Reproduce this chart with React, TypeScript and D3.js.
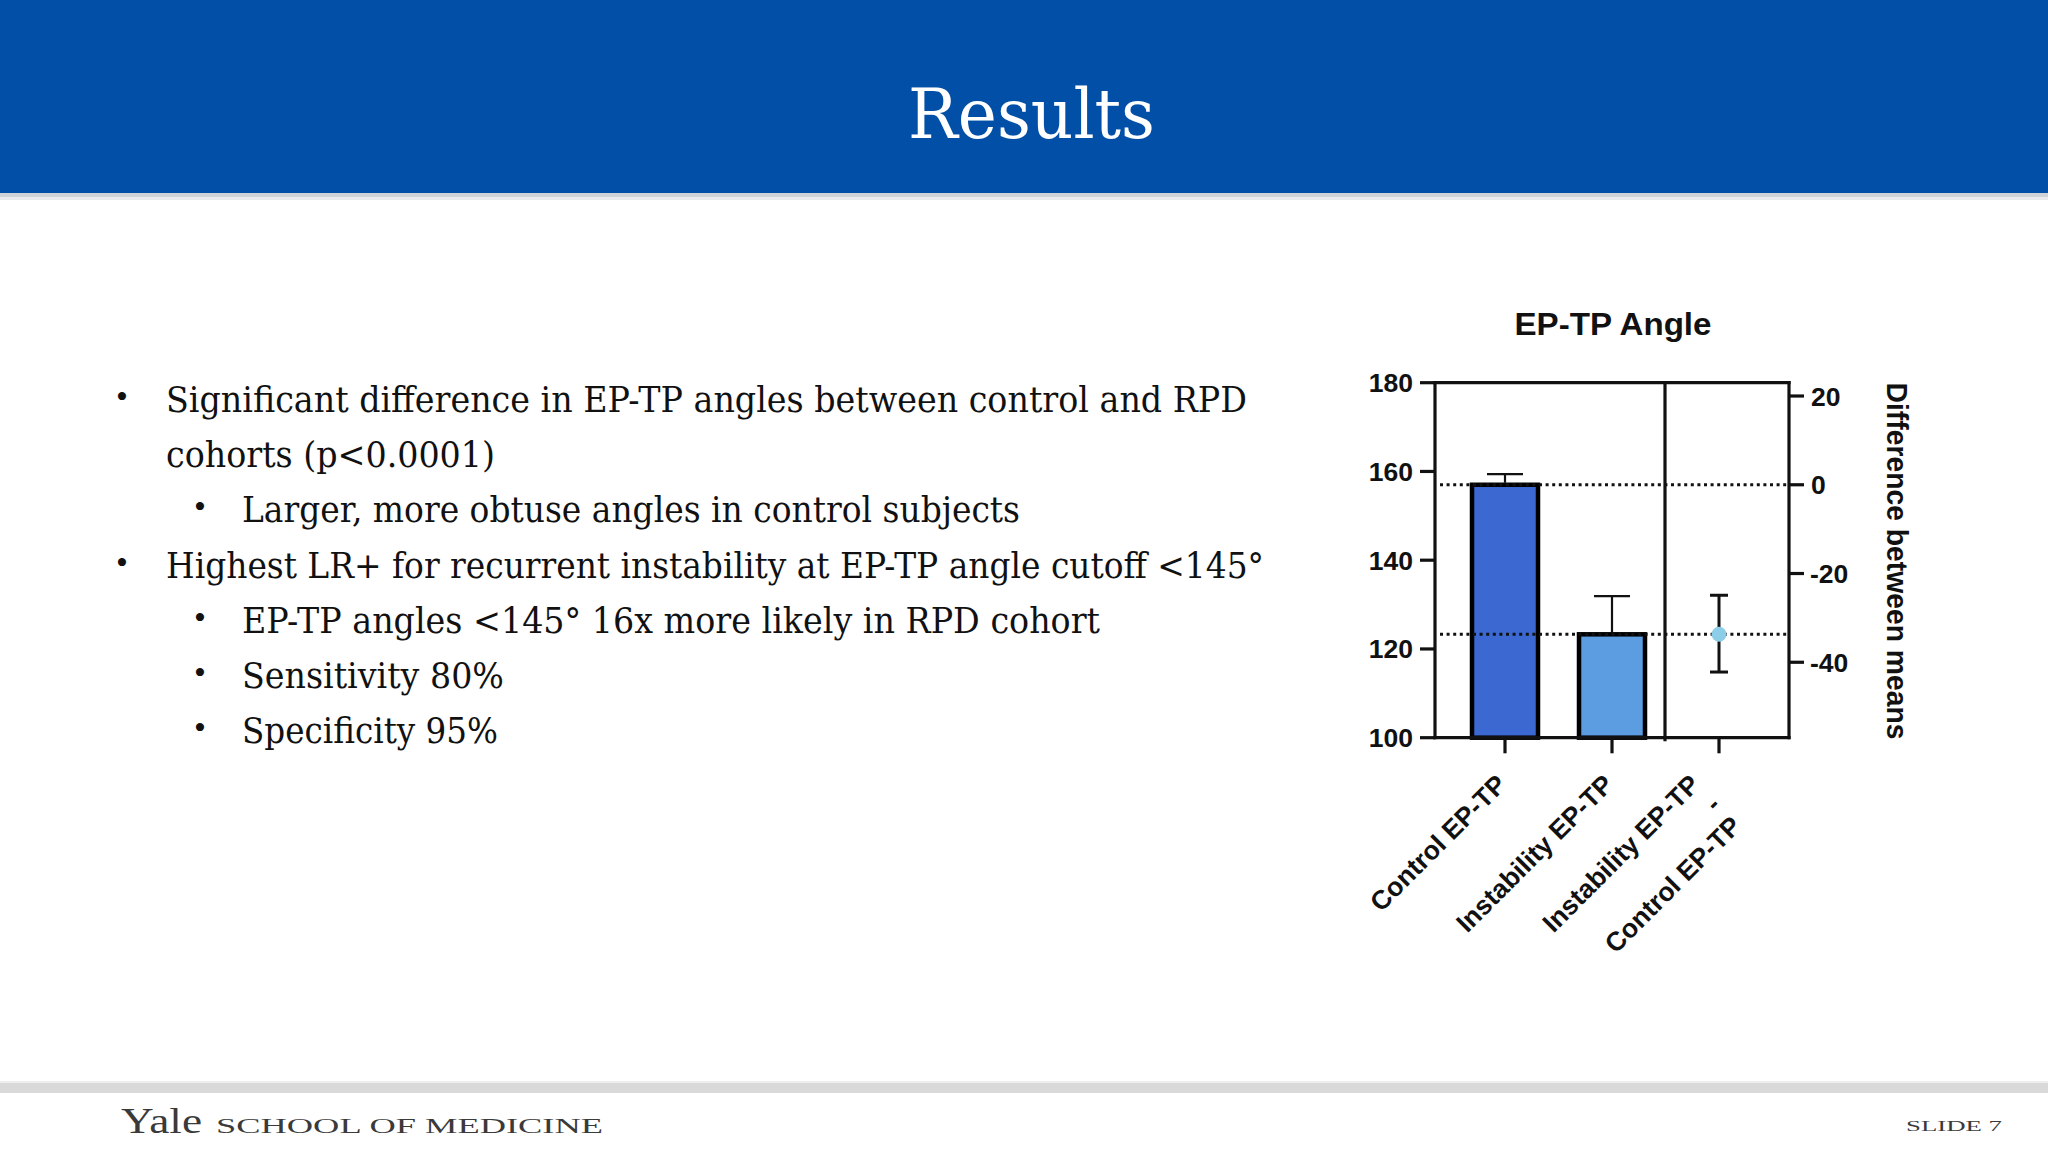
import React from "react";
import * as d3 from "d3";

// ---- chart data ----
const categories = ["Control EP-TP", "Instability EP-TP", "Instability EP-TP - Control EP-TP"];
const categoryLines = [["Control EP-TP"], ["Instability EP-TP"], ["Instability EP-TP", "-", "Control EP-TP"]];
const groupMeans = [157.0, 123.3];
const groupErrors = [2.4, 8.6];
const barColors = ["#3C69D1", "#5C9CE0"];
const diffMean = -33.7;
const diffLow = -42.2;
const diffHigh = -24.9;
const leftDomain = [100, 180];
const leftTicks = [100, 120, 140, 160, 180];
const rightTicks = [-40, -20, 0, 20];

// ---- slide text ----
const bulletLines = [
  { level: 1, text: "Significant difference in EP-TP angles between control and RPD", bullet: true, len: 1081 },
  { level: 1, text: "cohorts (p<0.0001)", bullet: false, len: 329 },
  { level: 2, text: "Larger, more obtuse angles in control subjects", bullet: true, len: 778 },
  { level: 1, text: "Highest LR+ for recurrent instability at EP-TP angle cutoff <145°", bullet: true, len: 1098 },
  { level: 2, text: "EP-TP angles <145° 16x more likely  in RPD cohort", bullet: true, len: 858 },
  { level: 2, text: "Sensitivity 80%", bullet: true, len: 262 },
  { level: 2, text: "Specificity 95%", bullet: true, len: 256 },
];

const W = 2048;
const H = 1152;
const sans = "'Liberation Sans', Arial, Helvetica, sans-serif";
const serif = "'DejaVu Serif', Georgia, serif";
const footSerif = "'Liberation Serif', 'Times New Roman', serif";

export default function App() {
  // plot frame
  const top = 382.7;
  const bottom = 737.7;
  const left = 1435;
  const right = 1789;
  const divider = 1665;

  const yLeft = d3.scaleLinear().domain(leftDomain).range([bottom, top]);
  // right axis shows differences relative to the control mean
  const yRight = d3
    .scaleLinear()
    .domain([leftDomain[0] - groupMeans[0], leftDomain[1] - groupMeans[0]])
    .range([bottom, top]);
  const x = d3.scalePoint<string>().domain(categories).range([1505, 1719]);

  const barW = 66;
  const lh = 29.3;
  const s = lh * Math.SQRT1_2;

  const lineLevels = [yLeft(groupMeans[0]), yLeft(groupMeans[1])];

  return (
    <svg
      width={W}
      height={H}
      viewBox={`0 0 ${W} ${H}`}
      style={{ position: "absolute", left: 0, top: 0, display: "block", background: "#fff" }}
    >
      {/* header band */}
      <rect x={0} y={0} width={W} height={193} fill="#014FA7" />
      <rect x={0} y={193} width={W} height={4} fill="#CFD2D6" />
      <rect x={0} y={197} width={W} height={3} fill="#EAEBED" />
      <text
        x={1031.5}
        y={138}
        textAnchor="middle"
        fill="#fff"
        fontFamily={serif}
        fontSize={70}
        textLength={247}
        lengthAdjust="spacingAndGlyphs"
      >
        Results
      </text>

      {/* bullet list */}
      {bulletLines.map((ln, i) => {
        const baseY = 411.7 + i * 55.27;
        const bx = ln.level === 1 ? 116 : 194;
        const tx = ln.level === 1 ? 166 : 242;
        return (
          <g key={i}>
            {ln.bullet && (
              <text x={bx} y={baseY - 4} fontFamily={footSerif} fontSize={34} fill="#111">
                •
              </text>
            )}
            <text
              x={tx}
              y={baseY}
              fontFamily={serif}
              fontSize={35}
              fill="#111"
              textLength={ln.len}
              lengthAdjust="spacingAndGlyphs"
            >
              {ln.text}
            </text>
          </g>
        );
      })}

      {/* chart title */}
      <text
        x={1613}
        y={335}
        textAnchor="middle"
        fontFamily={sans}
        fontWeight="bold"
        fontSize={32}
        fill="#111"
        textLength={197}
        lengthAdjust="spacingAndGlyphs"
      >
        EP-TP Angle
      </text>

      {/* bars */}
      {groupMeans.map((m, i) => (
        <rect
          key={i}
          x={x(categories[i])! - barW / 2}
          y={yLeft(m)}
          width={barW}
          height={yLeft(leftDomain[0]) - yLeft(m)}
          fill={barColors[i]}
          stroke="#000"
          strokeWidth={4.5}
        />
      ))}

      {/* group error bars (upper only) */}
      {groupMeans.map((m, i) => {
        const cx = x(categories[i])!;
        const yTop = yLeft(m + groupErrors[i]);
        return (
          <g key={i} stroke="#111" strokeWidth={2.2}>
            <line x1={cx} x2={cx} y1={yLeft(m) - 2} y2={yTop} />
            <line x1={cx - 18} x2={cx + 18} y1={yTop} y2={yTop} />
          </g>
        );
      })}

      {/* dotted mean reference lines */}
      {lineLevels.map((yy, i) => (
        <line
          key={i}
          x1={1440}
          x2={right}
          y1={yy}
          y2={yy}
          stroke="#111"
          strokeWidth={3}
          strokeDasharray="3 3.6"
        />
      ))}

      {/* difference with confidence interval */}
      {(() => {
        const cx = x(categories[2])!;
        return (
          <g>
            <g stroke="#111" strokeWidth={3}>
              <line x1={cx} x2={cx} y1={yRight(diffHigh)} y2={yRight(diffLow)} />
              <line x1={cx - 9} x2={cx + 9} y1={yRight(diffHigh)} y2={yRight(diffHigh)} />
              <line x1={cx - 9} x2={cx + 9} y1={yRight(diffLow)} y2={yRight(diffLow)} />
            </g>
            <circle cx={cx} cy={yRight(diffMean)} r={7.5} fill="#8CCDE8" />
          </g>
        );
      })()}

      {/* frame and axes */}
      <g stroke="#111" strokeWidth={3.2} fill="none" strokeLinecap="square">
        <line x1={left} x2={right} y1={top} y2={top} />
        <line x1={left} x2={right} y1={bottom} y2={bottom} />
        <line x1={left} x2={left} y1={top} y2={bottom} />
        <line x1={right} x2={right} y1={top} y2={bottom} />
        <line x1={divider} x2={divider} y1={top} y2={bottom + 2} />
      </g>

      {/* left axis */}
      {leftTicks.map((t) => (
        <g key={t}>
          <line x1={1420} x2={left} y1={yLeft(t)} y2={yLeft(t)} stroke="#111" strokeWidth={3.2} />
          <text
            x={1413}
            y={yLeft(t)}
            dy="0.36em"
            textAnchor="end"
            fontFamily={sans}
            fontWeight="bold"
            fontSize={26.5}
            fill="#111"
          >
            {t}
          </text>
        </g>
      ))}

      {/* right axis */}
      {rightTicks.map((t) => (
        <g key={t}>
          <line x1={right} x2={1804} y1={yRight(t)} y2={yRight(t)} stroke="#111" strokeWidth={3.2} />
          <text
            x={t < 0 ? 1810 : 1811}
            y={yRight(t)}
            dy="0.36em"
            textAnchor="start"
            fontFamily={sans}
            fontWeight="bold"
            fontSize={26.5}
            fill="#111"
          >
            {t}
          </text>
        </g>
      ))}
      <text
        transform={`translate(1887, 561) rotate(90)`}
        textAnchor="middle"
        fontFamily={sans}
        fontWeight="bold"
        fontSize={30}
        fill="#111"
        textLength={357}
        lengthAdjust="spacingAndGlyphs"
      >
        Difference between means
      </text>

      {/* x axis ticks and rotated labels */}
      {categories.map((c, i) => {
        const cx = x(c)!;
        const lines = categoryLines[i];
        const n = lines.length;
        return (
          <g key={c}>
            <line x1={cx} x2={cx} y1={bottom} y2={753.3} stroke="#111" strokeWidth={3.2} />
            <g transform={`translate(${cx + 3 - ((n - 1) * s) / 2}, 786) rotate(-45)`}>
              {lines.map((t, j) => (
                <text
                  key={j}
                  x={0}
                  y={j * lh}
                  textAnchor="end"
                  fontFamily={sans}
                  fontWeight="bold"
                  fontSize={26.5}
                  fill="#111"
                >
                  {t}
                </text>
              ))}
            </g>
          </g>
        );
      })}

      {/* footer */}
      <rect x={0} y={1081} width={W} height={2} fill="#EEEEEE" />
      <rect x={0} y={1083} width={W} height={10} fill="#D9D9D9" />
      <text x={121} y={1133} fontFamily={footSerif} fontSize={35} fill="#3a3a3a" textLength={81} lengthAdjust="spacingAndGlyphs">
        Yale
      </text>
      <text x={216} y={1133} fontFamily={footSerif} fontSize={20} fill="#3a3a3a" textLength={387} lengthAdjust="spacingAndGlyphs">
        SCHOOL OF MEDICINE
      </text>
      <text x={1906} y={1131} fontFamily={footSerif} fontSize={15} fill="#3a3a3a" textLength={96} lengthAdjust="spacingAndGlyphs">
        SLIDE 7
      </text>
    </svg>
  );
}
